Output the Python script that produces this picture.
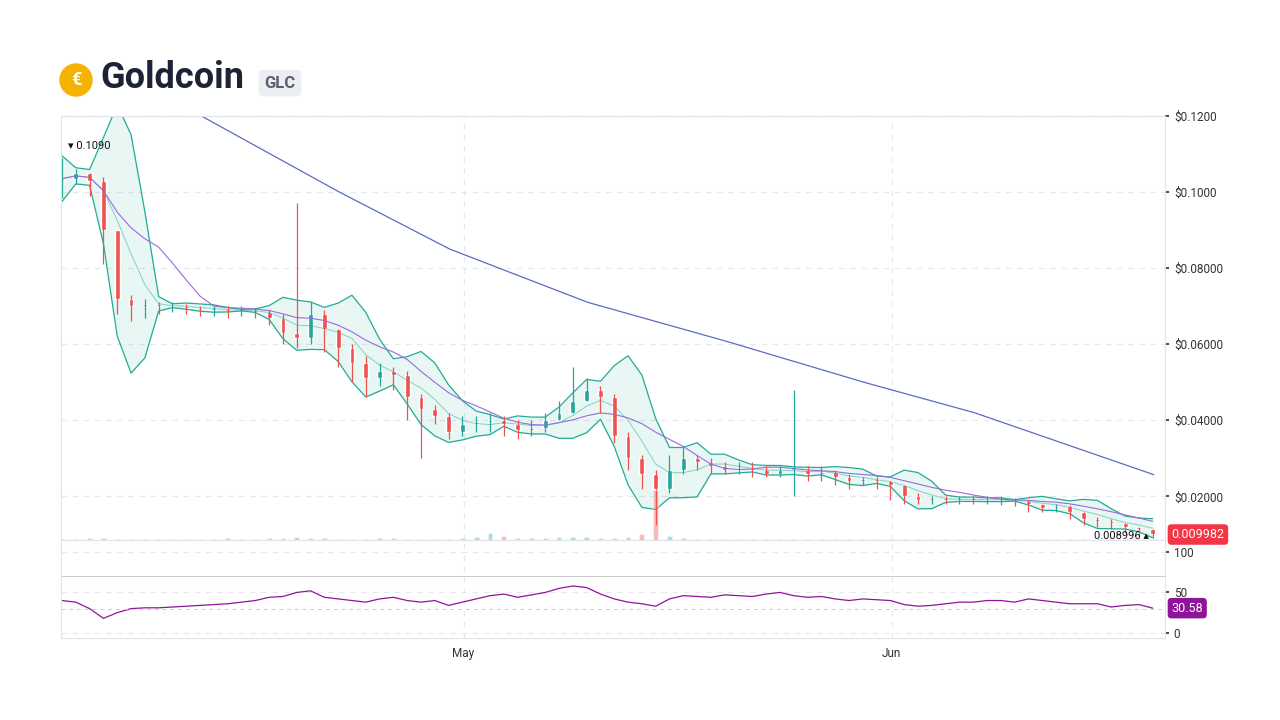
import numpy as np, pandas as pd, seaborn as sns
import matplotlib
matplotlib.use("Agg")
import matplotlib.pyplot as plt
import matplotlib.dates as mdates
from matplotlib.patches import Ellipse

sns.set_theme(style="white")
plt.rcParams['font.family'] = ['Roboto', 'DejaVu Sans']

start = "2024-04-01"
close = [0.1035,0.105,0.103,0.090,0.072,0.070,0.0705,0.070,0.0700,0.0695,0.069,0.069,0.0688,0.069,0.0685,0.067,
         0.063,0.0615,0.068,0.064,0.059,0.055,0.051,0.053,0.052,0.046,0.043,0.041,0.037,0.039,0.0395,0.040,
         0.039,0.0375,0.038,0.040,0.042,0.045,0.048,0.046,0.036,0.030,0.026,0.022,0.027,0.030,0.029,0.028,
         0.027,0.0275,0.027,0.026,0.027,0.027,0.026,0.0265,0.025,0.024,0.0245,0.024,0.023,0.020,0.019,0.0195,
         0.019,0.0195,0.019,0.019,0.019,0.0188,0.018,0.017,0.0175,0.016,0.014,0.0135,0.013,0.012,0.0115,0.0100]
open_ = [0.1030] + close[:-1]
high = [0.1090,0.106,0.105,0.104,0.084,0.073,0.072,0.071,0.0712,0.0705,0.070,0.0700,0.0700,0.0700,0.0695,0.0690,
        0.068,0.097,0.071,0.069,0.064,0.060,0.057,0.055,0.054,0.053,0.047,0.044,0.042,0.041,0.041,0.042,
        0.041,0.040,0.040,0.042,0.045,0.054,0.051,0.049,0.047,0.037,0.031,0.027,0.031,0.033,0.031,0.030,
        0.029,0.029,0.029,0.028,0.028,0.048,0.028,0.028,0.027,0.026,0.025,0.025,0.024,0.023,0.021,0.020,
        0.020,0.020,0.020,0.020,0.020,0.0195,0.019,0.018,0.018,0.0178,0.016,0.0145,0.014,0.013,0.012,0.0115]
low = [0.0985,0.102,0.099,0.081,0.068,0.066,0.067,0.068,0.0685,0.068,0.0675,0.0675,0.067,0.0675,0.067,0.065,
       0.060,0.059,0.060,0.058,0.054,0.050,0.046,0.049,0.048,0.040,0.030,0.039,0.035,0.036,0.037,0.037,
       0.036,0.035,0.036,0.037,0.040,0.042,0.045,0.042,0.034,0.027,0.022,0.0125,0.021,0.026,0.027,0.026,
       0.026,0.026,0.025,0.025,0.025,0.020,0.024,0.024,0.023,0.022,0.023,0.022,0.019,0.018,0.018,0.018,
       0.018,0.018,0.018,0.018,0.0178,0.0175,0.016,0.016,0.016,0.014,0.0125,0.012,0.0115,0.0105,0.0095,0.0090]
volume = [1,1,2,2,1,1,1,1,1,1,1,1,2,1,1,2,2,3,2,2,1,1,1,2,2,1,1,1,1,2,3,6,4,2,2,2,3,3,3,2,2,3,5,45,4,2,1,1,
          1,1,1,1,1,1,1,1,1,1,1,1,1,1,1,1,1,1,1,1,1,1,1,1,1,1,1,1,1,1,1,1]
rsi = [40,38,30,18,25,30,31,31,32,33,34,35,36,38,40,44,45,50,52,44,42,40,38,42,44,40,38,40,34,38,42,46,
       48,44,47,50,55,58,56,48,42,38,36,33,42,46,45,44,47,46,45,48,50,46,44,45,42,40,42,41,40,35,33,34,
       36,38,38,40,40,38,42,40,38,36,36,36,32,34,35,30.58]
ma_long_x = ["2024-04-12","2024-04-22","2024-04-30","2024-05-10","2024-05-20","2024-05-30","2024-06-07","2024-06-20"]
ma_long_v = [0.120,0.100,0.085,0.071,0.0608,0.050,0.042,0.0257]

dates = pd.date_range(start, periods=len(close), freq="D") + pd.Timedelta(hours=22)
df = pd.DataFrame(dict(o=open_, h=high, l=low, c=close, v=volume, rsi=rsi), index=dates)
mid = df.c.rolling(4, min_periods=1).mean()
sd = df.c.rolling(4, min_periods=1).std().fillna(0.003)
up, dn = mid + 2*sd, mid - 2*sd
ma2 = df.c.rolling(8, min_periods=1).mean()
x = mdates.date2num(df.index)

fig = plt.figure(figsize=(12.8, 7.2), dpi=100)
ax = fig.add_axes([0.048, 0.25, 0.862, 0.589])
ar = fig.add_axes([0.048, 0.114, 0.862, 0.136], sharex=ax)
teal = "#22ab94"
ax.fill_between(x, dn, up, color=teal, alpha=0.1, lw=0)
ax.plot(x, up, color=teal, lw=0.9); ax.plot(x, dn, color=teal, lw=0.9)
ax.plot(x, mid, color=teal, lw=0.7, alpha=0.5)
ax.plot(x, ma2, color="#9c6ade", lw=0.8)
ax.plot(mdates.date2num(pd.to_datetime(ma_long_x)), ma_long_v, color="#5c6bc0", lw=0.9)
cols = np.where(df.c >= df.o, "#26a69a", "#ef5350")
ax.vlines(x, df.l, df.h, colors=cols, lw=0.9)
ax.bar(x, (df.c - df.o).abs().clip(lower=0.0004), bottom=np.minimum(df.o, df.c), width=0.35, color=cols)
av = ax.twinx()
av.bar(x, df.v, width=0.35, color=cols, alpha=0.4)
av.set_ylim(0, 380); av.axis("off")
ax.set_ylim(0.00854, 0.12)
ax.set_xlim(mdates.date2num(pd.Timestamp("2024-04-01 21:00")), mdates.date2num(pd.Timestamp("2024-06-20 19:00")))
ax.yaxis.tick_right()
ax.set_yticks([0.02,0.04,0.06,0.08,0.10,0.12])
ax.set_yticklabels(["$0.02000","$0.04000","$0.06000","$0.08000","$0.1000","$0.1200"])
for a in (ax, ar):
    a.tick_params(labelsize=8.5, colors="#333", length=3, right=True)
    for s in a.spines.values(): s.set_color("#e0e3eb"); s.set_linewidth(0.8)
    a.grid(True, ls=(0,(5,5)), color="#e6e8ee", lw=0.8)
ax.tick_params(labelbottom=False, bottom=False)
ar.plot(x, df.rsi, color="#8e1599", lw=0.9)
ar.set_ylim(-6.2, 114.8); ar.yaxis.tick_right()
ar.set_yticks([0, 50, 100])
ar.axhline(70, color="#ccc", lw=0.7); ar.axhline(30, color="#ccc", lw=0.7, ls=(0,(4,4)))
ar.xaxis.set_major_locator(mdates.MonthLocator(bymonthday=1))
ar.xaxis.set_major_formatter(mdates.DateFormatter("%b"))
ar.tick_params(bottom=False)
ax.text(1.006, 0.009982, "0.009982", transform=ax.get_yaxis_transform(), va="center", fontsize=9, color="white",
        bbox=dict(boxstyle="round,pad=0.3", fc="#f23645", ec="none"))
ar.text(1.006, 30.58, "30.58", transform=ar.get_yaxis_transform(), va="center", fontsize=9, color="white",
        bbox=dict(boxstyle="round,pad=0.3", fc="#8e1599", ec="none"))
ax.text(0.006, 0.1120, "▾ 0.1090", transform=ax.get_yaxis_transform(), fontsize=8, color="#111", va="center")
ax.annotate("0.008996 ▴", (x[-1]-0.3, 0.0095), fontsize=8, color="#111", va="center", ha="right")
fig.patches.append(Ellipse((76/1280, 1-80/720), 32/1280, 32/720, transform=fig.transFigure, color="#f5b300"))
fig.text(76/1280, 1-80/720, "€", fontsize=13, color="white", ha="center", va="center", weight="bold")
fig.text(100/1280, 1-78/720, "Goldcoin", fontsize=26, weight="bold", color="#1e2235", va="center")
fig.text(280/1280, 1-83/720, "GLC", fontsize=12, weight="bold", color="#5a6072", va="center", ha="center",
         bbox=dict(boxstyle="round,pad=0.35", fc="#eceef3", ec="none"))
fig.savefig("out.png", dpi=100)
